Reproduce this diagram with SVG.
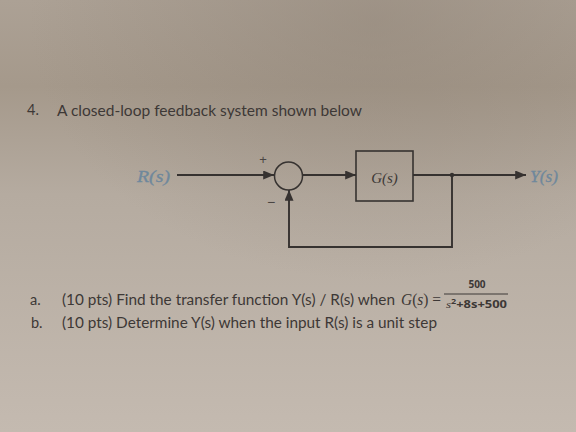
<svg xmlns="http://www.w3.org/2000/svg" width="576" height="432" viewBox="0 0 576 432">
<defs>
<linearGradient id="bg" x1="0" y1="0" x2="0" y2="1">
<stop offset="0" stop-color="#aca195"/>
<stop offset="0.2" stop-color="#a5998b"/>
<stop offset="0.45" stop-color="#b5aba0"/>
<stop offset="1" stop-color="#c4bab0"/>
</linearGradient>
<radialGradient id="shade" cx="0.65" cy="0.05" r="0.6">
<stop offset="0" stop-color="#8f8376" stop-opacity="0.5"/>
<stop offset="1" stop-color="#8f8376" stop-opacity="0"/>
</radialGradient>
<marker id="arr" viewBox="0 0 12 10" refX="12" refY="5" markerWidth="12" markerHeight="9" markerUnits="userSpaceOnUse" orient="auto">
<path d="M0,0 L12,5 L0,10 z" fill="#363230"/>
</marker>
<style>
.t{font-family:Lato,"Open Sans","Liberation Sans",sans-serif;fill:#3d3836;font-size:14.5px}
.ln{stroke:#363230;stroke-width:1.9;fill:none}
.sig{font-family:"Liberation Serif",serif;font-style:italic;fill:#6f889c;font-size:16px;stroke:#6f889c;stroke-width:0.3}
.m{font-family:"Liberation Serif",serif;fill:#3d3836}
</style>
</defs>
<rect width="576" height="432" fill="url(#bg)"/>
<rect width="576" height="432" fill="url(#shade)"/>
<text class="t" x="27" y="115">4.</text>
<text class="t" x="57" y="116" textLength="305" lengthAdjust="spacingAndGlyphs">A closed-loop feedback system shown below</text>
<g id="connectors">
<line class="ln" x1="177" y1="175" x2="274" y2="175" marker-end="url(#arr)"/>
<line class="ln" x1="303" y1="175" x2="356" y2="175" marker-end="url(#arr)"/>
<line class="ln" x1="413" y1="175" x2="526" y2="175" marker-end="url(#arr)"/>
<polyline class="ln" points="452,175 452,247 289,247 289,190" marker-end="url(#arr)"/>
<circle cx="452" cy="175" r="2.2" fill="#363230"/>
</g>
<g id="R">
<text class="sig" x="137" y="182" textLength="33" lengthAdjust="spacingAndGlyphs">R(s)</text>
</g>
<g id="sum">
<circle cx="288.5" cy="176" r="14" fill="none" stroke="#363230" stroke-width="1.5"/>
<text x="263" y="164" font-family="Liberation Sans,sans-serif" font-size="13" fill="#4a4542" text-anchor="middle">+</text>
<text x="271" y="207" font-family="Liberation Sans,sans-serif" font-size="14" fill="#4a4542" text-anchor="middle">−</text>
</g>
<g id="G">
<rect x="356" y="151" width="57" height="50" fill="none" stroke="#363230" stroke-width="1.6"/>
<text class="m" x="384.5" y="183" font-style="italic" font-size="15" text-anchor="middle">G(s)</text>
</g>
<g id="Y">
<text class="sig" x="530" y="182" textLength="28" lengthAdjust="spacingAndGlyphs">Y(s)</text>
</g>
<text class="t" x="30" y="305">a.</text>
<text class="t" x="62" y="305" textLength="333" lengthAdjust="spacingAndGlyphs">(10 pts) Find the transfer function Y(s) / R(s) when</text>
<text class="m" x="401" y="305" font-size="16" textLength="40" lengthAdjust="spacingAndGlyphs"><tspan font-style="italic">G</tspan>(<tspan font-style="italic">s</tspan>) =</text>
<text x="477" y="288" font-family="Open Sans,sans-serif" font-weight="bold" font-size="10" fill="#3d3836" text-anchor="middle">500</text>
<line x1="444" y1="294" x2="508" y2="294" stroke="#3d3836" stroke-width="1"/>
<text x="446" y="308" font-family="Open Sans,sans-serif" font-weight="bold" font-size="10" fill="#3d3836" textLength="61" lengthAdjust="spacingAndGlyphs"><tspan font-family="Liberation Serif,serif" font-style="italic" font-weight="normal">s</tspan><tspan font-size="7" dy="-4">2</tspan><tspan dy="4">+8s+500</tspan></text>
<text class="t" x="31" y="328">b.</text>
<text class="t" x="62" y="328" textLength="375" lengthAdjust="spacingAndGlyphs">(10 pts) Determine Y(s) when the input R(s) is a unit step</text>
</svg>
